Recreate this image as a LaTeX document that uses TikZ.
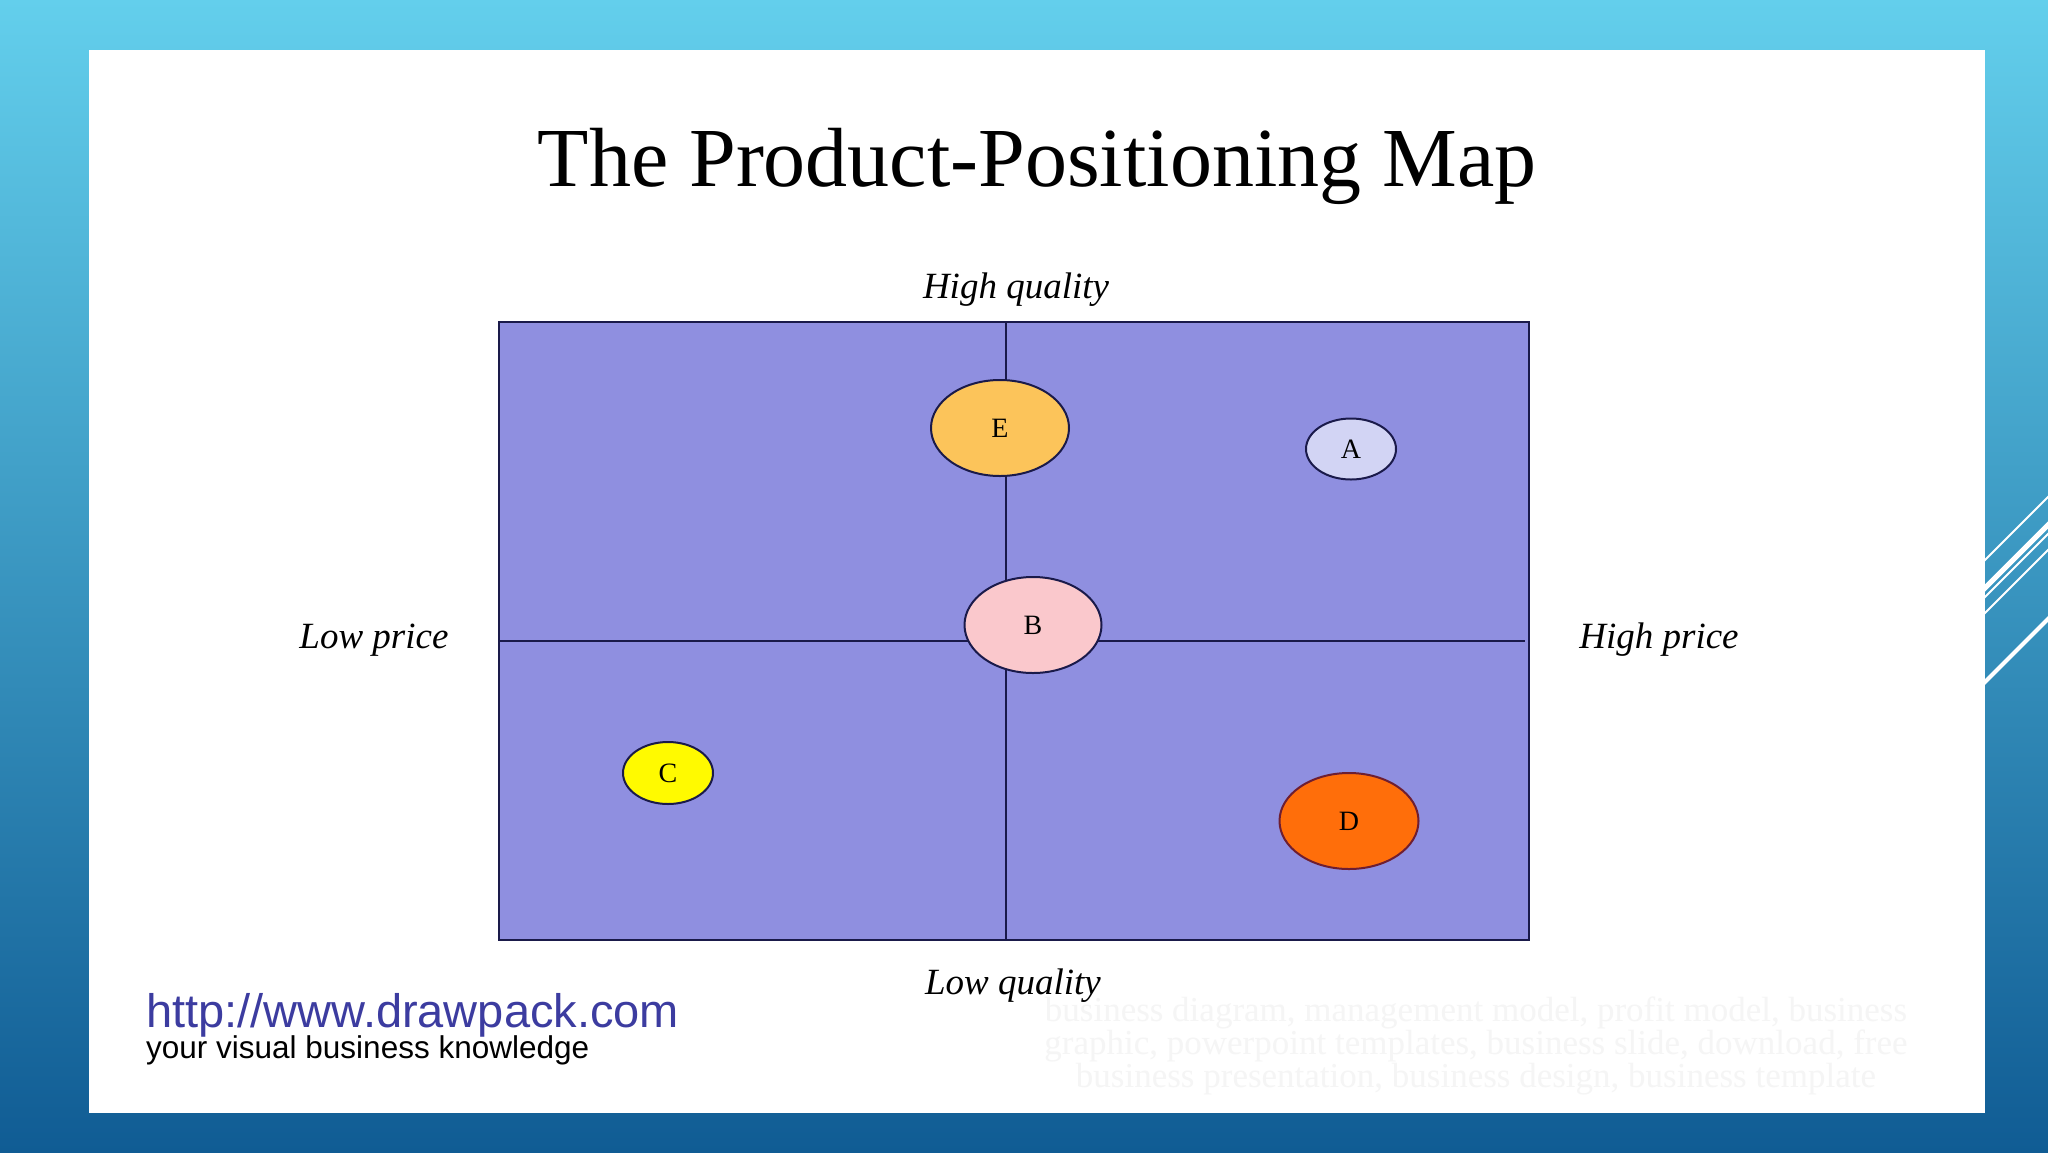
\documentclass[tikz,border=0pt]{standalone}
\usepackage{fontspec}
\setmainfont{Liberation Serif}
\setsansfont{Liberation Sans}
\usepackage{tikz}
\usetikzlibrary{shapes.geometric}

\definecolor{skytop}{RGB}{99,207,236}
\definecolor{skybot}{RGB}{16,92,148}
\definecolor{mapfill}{RGB}{143,143,224}
\definecolor{mapline}{RGB}{26,26,74}
\definecolor{urlblue}{RGB}{60,60,160}

\tikzset{
  brand/.style={ellipse, draw=mapline, line width=2pt, inner sep=0pt,
    font=\fontsize{28}{30}\selectfont},
  axislabel/.style={font=\fontsize{37}{40}\selectfont\itshape},
}

\begin{document}
\begin{tikzpicture}[x=1pt,y=-1pt]
\useasboundingbox (0,0) rectangle (2048,1152);
\shade[top color=skytop, bottom color=skybot] (0,0) rectangle (2048,1152);
% stripes on the right margin
\foreach \yy/\w in {560/2, 588/5, 597/2, 613/2, 682/4}
  \draw[white, line width=\w pt] (1945,\yy+40) -- ++(110,-110);
\fill[white] (89,50) rectangle (1985,1113);

\node (title) at (1037,166) {\fontsize{84}{90}\selectfont The Product-Positioning Map};

% the map
\draw[mapline, line width=2.8pt, fill=mapfill] (499,322) rectangle (1529,940);
\coordinate (qtop) at (1006,322);
\coordinate (qbot) at (1006,940);
\coordinate (qleft) at (499,641);
\coordinate (qright) at (1525,641);
\draw[mapline, line width=2.8pt] (qtop) -- (qbot);
\draw[mapline, line width=2.8pt] (qleft) -- (qright);

\node[axislabel] (hiq) at (1016,290) {High quality};
\node[axislabel] (loq) at (1013,986) {Low quality};
\node[axislabel] (lop) at (374,640) {Low price};
\node[axislabel] (hip) at (1659,640) {High price};

\node[brand, fill={rgb,255:red,252;green,196;blue,90}, minimum width=138, minimum height=96] (E) at (1000,428) {E};
\node[brand, fill={rgb,255:red,210;green,212;blue,244}, minimum width=90, minimum height=61] (A) at (1351,449) {A};
\node[brand, fill={rgb,255:red,250;green,200;blue,204}, minimum width=137, minimum height=96] (B) at (1033,625) {B};
\node[brand, fill={rgb,255:red,255;green,250;blue,0}, minimum width=90, minimum height=62] (C) at (668,773) {C};
\node[brand, draw={rgb,255:red,110;green,30;blue,50}, fill={rgb,255:red,255;green,110;blue,10}, minimum width=139, minimum height=96] (D) at (1349,821) {D};

% footer
\node[anchor=base west, text=urlblue, inner sep=0pt] (url) at (146,1027)
  {\sffamily\fontsize{47}{50}\selectfont http://www.drawpack.com};
\node[anchor=base west, inner sep=0pt] (slogan) at (146,1058)
  {\sffamily\fontsize{31.5}{34}\selectfont your visual business knowledge};
\node[text=black!4, align=center, font=\fontsize{35}{33}\selectfont] (tags) at (1476,1046)
  {business diagram, management model, profit model, business\\
   graphic, powerpoint templates, business slide, download, free\\
   business presentation, business design, business template};
\end{tikzpicture}
\end{document}
